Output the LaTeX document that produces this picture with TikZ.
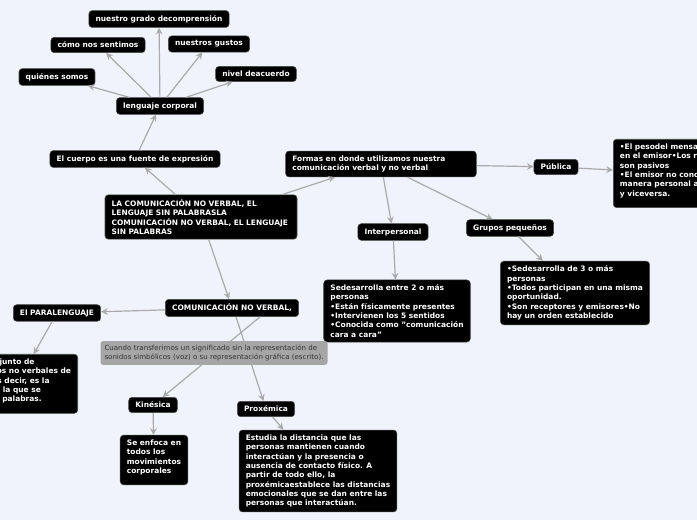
\documentclass[tikz,border=0pt]{standalone}
\usepackage{fontspec}
\setmainfont{DejaVu Sans}
\usetikzlibrary{arrows.meta}
\definecolor{bg}{HTML}{F0F2FC}
\definecolor{ln}{HTML}{AAAAAA}
\tikzset{
 box/.style={fill=black,text=white,rounded corners=2.5pt,draw=black!70,font=\bfseries\fontsize{5.6}{7}\selectfont,inner xsep=5pt,inner ysep=3.5pt,align=left},
 note/.style={fill=black!35,text=black!80,rounded corners=2pt,font=\fontsize{5.3}{6.5}\selectfont,inner sep=3pt,align=left},
 con/.style={draw=ln,line width=0.9pt,-{Stealth[length=5pt,width=5pt]}}
}
\begin{document}
\begin{tikzpicture}[x=0.75pt,y=-0.75pt]
\useasboundingbox[fill=bg] (0,0) rectangle (697,520);
\clip (0,0) rectangle (697,520);
\node[box] (grado) at (159,19) {nuestro grado decomprensión};
\node[box] (como) at (98,45) {cómo nos sentimos};
\node[box] (gustos) at (209,44) {nuestros gustos};
\node[box] (quienes) at (57,77) {quiénes somos};
\node[box] (nivel) at (256,74) {nivel deacuerdo};
\node[box] (lc) at (160,106) {lenguaje corporal};
\node[box] (cuerpo) at (135,159) {El cuerpo es una fuente de expresión};
\node[box,text width=134pt] (main) at (201,217) {LA COMUNICACIÓN NO VERBAL, EL\\LENGUAJE SIN PALABRASLA\\COMUNICACIÓN NO VERBAL, EL LENGUAJE\\SIN PALABRAS};
\node[box,text width=133pt] (formas) at (381,164) {Formas en donde utilizamos nuestra\\comunicación verbal y no verbal};
\node[box] (publica) at (556,167) {Pública};
\node[box,anchor=north west] (pubt) at (613,139) {•El pesodel mensaje recae\\en el emisor•Los receptores\\son pasivos\\•El emisor no conoce de\\manera personal al receptor\\y viceversa.\\[-2pt]};
\node[box] (inter) at (393,232) {Interpersonal};
\node[box] (grupos) at (510,228) {Grupos pequeños};
\node[box] (grut) at (575,293) {•Sedesarrolla de 3 o más\\personas\\•Todos participan en una misma\\oportunidad.\\•Son receptores y emisores•No\\hay un orden establecido};
\node[box] (intt) at (397,311) {Sedesarrolla entre 2 o más\\personas\\•Están físicamente presentes\\•Intervienen los 5 sentidos\\•Conocida como "comunicación\\cara a cara"};
\node[box] (com) at (232,308) {COMUNICACIÓN NO VERBAL,};
\node[box] (para) at (57,313) {El PARALENGUAJE};
\node[box,anchor=north east] (parat) at (78,354) {Es el conjunto de\\elementos no verbales de\\la voz, es decir, es la\\forma en la que se\\dicen las palabras.\\[-2pt]};
\node[box] (kin) at (153,405) {Kinésica};
\node[box] (prox) at (266,409) {Proxémica};
\node[box] (kint) at (154,460) {Se enfoca en\\todos los\\movimientos\\corporales\\[-2pt]};
\node[box] (proxt) at (318,471) {Estudia la distancia que las\\personas mantienen cuando\\interactúan y la presencia o\\ausencia de contacto físico. A\\partir de todo ello, la\\proxémicaestablece las distancias\\emocionales que se dan entre las\\personas que interactúan.};
\draw[con] (main) -- (cuerpo);
\draw[con] (cuerpo) -- (lc);
\draw[con] (lc) -- (grado);
\draw[con] (lc) -- (como);
\draw[con] (lc) -- (gustos);
\draw[con] (lc) -- (quienes);
\draw[con] (lc) -- (nivel);
\draw[con] (main.north east) ++(-15,0) -- (formas.south west -| 335,0);
\draw[con] (main) -- (com);
\draw[con] (formas) -- (publica);
\draw[con] (publica) -- (pubt);
\draw[con] (formas) -- (inter);
\draw[con] (formas) -- (grupos);
\draw[con] (grupos) -- (grut);
\draw[con] (inter) -- (intt);
\draw[con] (com) -- (para);
\draw[con] (para) -- (parat);
\draw[con] (com.south) ++(28,0) -- (kin);
\draw[con] (com.south) ++(4,0) -- (prox);
\draw[con] (kin) -- (kint);
\draw[con] (prox) -- (proxt);
\node[note] (nota) at (214,353) {Cuando transferimos un significado sin la representación de\\sonidos simbólicos (voz) o su representación gráfica (escrito).};
\end{tikzpicture}
\end{document}
